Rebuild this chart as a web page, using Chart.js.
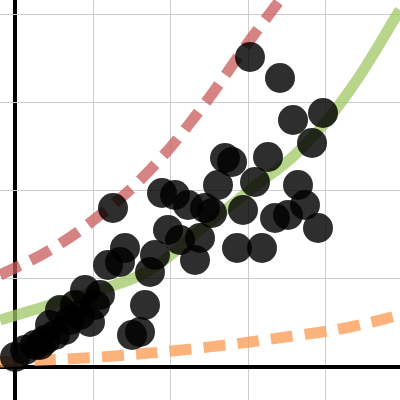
<!DOCTYPE html><html><head><script src="https://cdn.jsdelivr.net/npm/chart.js@4"></script>
<style>html,body{margin:0;background:#fff}#w{width:400px;height:400px}</style></head><body><div id="w"><canvas id="c"></canvas></div>
<script>
const ptsX=[15,25,35,45,55,65,70,80,85,90,95,100,60,50,40,75,108,120,125,113,132,140,145,150,155,162,168,175,180,188,195,200,205,212,218,225,232,237,243,250,255,262,268,275,280,288,293,298,305,312,318,323];
const ptsY=[43,50,55,60,65,70,80,85,110,78,95,105,90,75,55,95,135,138,152,192,65,68,95,128,145,207,170,205,160,195,140,162,192,187,215,242,238,152,190,343,218,152,243,182,322,185,280,215,195,257,172,287];
const greenX=[0,50,100,150,200,250,300,350,400];
const greenY=[80,95,110,130,170,210,250,310,390];
const redX=[0,50,100,150,200,250,280];
const redY=[125,150,185,230,290,360,400];
const orangeX=[0,100,200,300,350,400];
const orangeY=[38,43,52,65,73,85];
const gx=[15,93,170,248,325], gy=[33,122,210,298,385];
const mk=(xs,ys)=>xs.map((x,i)=>({x,y:ys[i]}));
new Chart(document.getElementById('c'),{type:'scatter',data:{datasets:[
{data:mk(ptsX,ptsY),pointRadius:15,pointHoverRadius:15,backgroundColor:'rgba(0,0,0,0.82)',borderWidth:0,order:1},
{type:'line',data:mk(redX,redY),borderColor:'rgba(200,90,90,0.75)',borderWidth:11,borderDash:[22,12],pointRadius:0,tension:0.4,fill:false,order:2},
{type:'line',data:mk(greenX,greenY),borderColor:'rgba(160,200,100,0.75)',borderWidth:11,pointRadius:0,tension:0.4,fill:false,order:2},
{type:'line',data:mk(orangeX,orangeY),borderColor:'rgba(250,160,90,0.8)',borderWidth:11,borderDash:[22,12],pointRadius:0,tension:0.4,fill:false,order:2}
]},options:{animation:false,responsive:true,maintainAspectRatio:false,layout:{padding:0,autoPadding:false},
plugins:{legend:{display:false},tooltip:{enabled:false}},
scales:{x:{type:'linear',min:0,max:400,ticks:{display:false,padding:0},border:{display:false},
afterBuildTicks:a=>{a.ticks=gx.map(v=>({value:v}))},
grid:{color:c=>c.tick.value===15?'#000':'#ccc',lineWidth:c=>c.tick.value===15?4:1,drawTicks:false}},
y:{type:'linear',min:0,max:400,ticks:{display:false,padding:0},border:{display:false},
afterBuildTicks:a=>{a.ticks=gy.map(v=>({value:v}))},
grid:{color:c=>c.tick.value===33?'#000':'#ccc',lineWidth:c=>c.tick.value===33?4:1,drawTicks:false}}}}});
</script></body></html>
